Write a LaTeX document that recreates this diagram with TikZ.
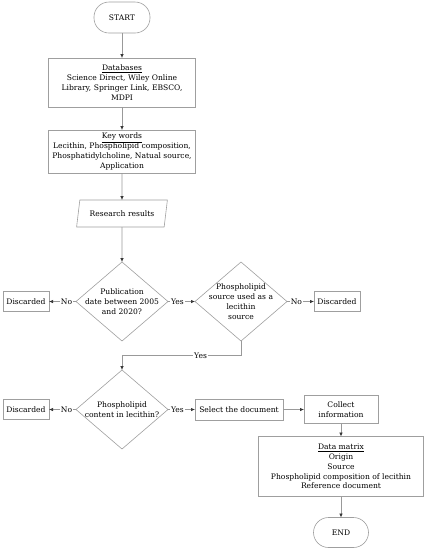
\documentclass[tikz,border=0pt]{standalone}
\usepackage{fontspec}
\setmainfont{DejaVu Serif}
\usetikzlibrary{positioning,shapes.geometric,arrows.meta}

\begin{document}
\begin{tikzpicture}[
    x=1pt, y=1pt,
    font=\fontsize{7.6}{9.8}\selectfont,
    box/.style={draw=gray!75, line width=0.6pt, align=center, inner sep=1pt, outer sep=0pt, text=black},
    term/.style={box, rounded corners=15pt, minimum width=56pt, minimum height=31pt},
    io/.style={box, trapezium, trapezium left angle=72, trapezium right angle=108, trapezium stretches=true, minimum width=91pt, minimum height=27pt},
    decision/.style={box, diamond, minimum width=92pt, minimum height=79pt, inner sep=-15pt},
    flow/.style={draw=gray!80, line width=0.6pt, -{Latex[length=4pt,width=3.4pt,black!80]}},
    ans/.style={fill=white, inner sep=0.8pt, text=black, pos=0.35}
  ]

\useasboundingbox (0,0) rectangle (427,-550);

% Search steps
\node[term] (start) at (122,-17.5) {START};
\node[box, below=25pt of start, minimum width=147pt, minimum height=49pt] (db)
  {\underline{Databases}\\Science Direct, Wiley Online\\Library, Springer Link, EBSCO,\\MDPI};
\node[box, below=23pt of db, minimum width=147pt, minimum height=43pt] (kw)
  {\underline{Key words}\\Lecithin, Phospholipid composition,\\Phosphatidylcholine, Natual source,\\Application};
\node[io, below=27pt of kw] (res) {Research results};

% First screening
\node[decision, below=35pt of res] (date) {Publication\\date between 2005\\and 2020?};
\node[box, left=27pt of date, minimum width=46pt, minimum height=20pt] (disc1) {Discarded};
\node[decision, right=27pt of date] (src) {Phospholipid\\source used as a\\lecithin\\source};
\node[box, right=27pt of src, minimum width=46pt, minimum height=20pt] (disc2) {Discarded};

% Second screening
\node[decision, below=29pt of date] (cont) {Phospholipid\\content in lecithin?};
\node[box, left=27pt of cont, minimum width=46pt, minimum height=20pt] (disc3) {Discarded};
\node[box, right=27pt of cont, minimum width=88pt, minimum height=21pt] (sel) {Select the document};
\node[box, right=21pt of sel, minimum width=74pt, minimum height=28pt] (col) {Collect\\information};
\node[box, below=13pt of col, minimum width=165pt, minimum height=60pt] (data)
  {\underline{Data matrix}\\Origin\\Source\\Phospholipid composition of lecithin\\Reference document};
\node[term, below=21pt of data, minimum width=55pt, minimum height=30pt] (end) {END};

% Connectors
\draw[flow] (start) -- (db);
\draw[flow] (db) -- (kw);
\draw[flow] (kw) -- (res);
\draw[flow] (res) -- (date);
\draw[flow] (date) -- node[ans] {No} (disc1);
\draw[flow] (date) -- node[ans] {Yes} (src);
\draw[flow] (src) -- node[ans] {No} (disc2);
\draw[flow] (src.south) -- ++(0,-14.7) -| node[ans, pos=0.17] {Yes} (cont.north);
\draw[flow] (cont) -- node[ans] {No} (disc3);
\draw[flow] (cont) -- node[ans] {Yes} (sel);
\draw[flow] (sel) -- (col);
\draw[flow] (col) -- (data);
\draw[flow] (data) -- (end);

\end{tikzpicture}
\end{document}
